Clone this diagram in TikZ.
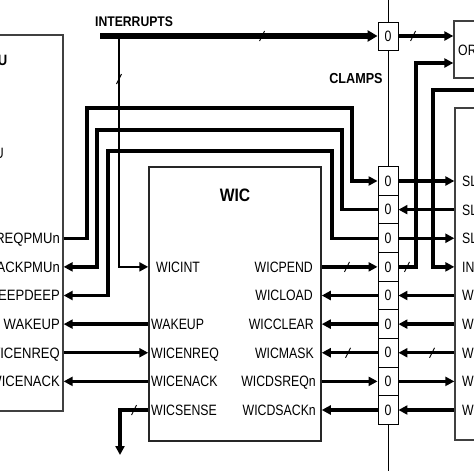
\documentclass[tikz,border=0pt]{standalone}
\usepackage{fontspec}
\newfontfamily\labfont[FakeStretch=0.82]{Liberation Sans}
\newfontfamily\pmufont[FakeStretch=0.87]{Liberation Sans}
\newfontfamily\boldfont[FakeStretch=0.87]{Liberation Sans Bold}
\usetikzlibrary{arrows.meta}
\newcommand\slashmark[2]{\draw[tickmark] ({#1-2.5},{#2+5}) -- ({#1+2.5},{#2-5});}
\begin{document}
\begin{tikzpicture}[x=1pt,y=-1pt,
  lab/.style={font=\labfont\fontsize{15}{15}\selectfont, inner sep=0pt},
  plab/.style={font=\pmufont\fontsize{15}{15}\selectfont, inner sep=0pt},
  blab/.style={font=\boldfont\fontsize{14}{14}\selectfont, inner sep=0pt},
  sig/.style={line width=3.4pt},
  arr/.style={-{Triangle[length=9pt,width=9pt]}},
  tickmark/.style={line width=0.9pt},
  clampbox/.style={draw, line width=0.9pt, fill=white, minimum width=20pt,
    minimum height=28.625pt, inner sep=0pt, font=\labfont\fontsize{15}{15}\selectfont},
  blockbox/.style={draw, line width=1.3pt, inner sep=0pt}
]
\clip (0,0) rectangle (474,474);
\fill[white] (0,0) rectangle (474,474);

% boxes
\node[blockbox, draw=black!75, minimum width=100pt, minimum height=376pt] (pmu) at (13,223) {};
\node[blockbox, draw=black!85, line width=1.5pt, minimum width=172pt, minimum height=274pt] (wic) at (235,304) {};
\node[blockbox, draw=black!75, minimum width=80pt, minimum height=332pt] (bigbox) at (495,274) {};
\node[blockbox, draw=black!75, minimum width=80pt, minimum height=57pt] (orbox) at (494,49.5) {};

% clamp column
\coordinate (coltop) at (388,0);
\coordinate (colbot) at (388,471);
\draw[line width=1pt] (coltop) -- (colbot);
\node[clampbox, minimum height=28pt] (c0) at (388,36) {0};
\node[clampbox] (c1) at (388,181) {0};
\node[clampbox] (c2) at (388,209.625) {0};
\node[clampbox] (c3) at (388,238.25) {0};
\node[clampbox] (c4) at (388,266.875) {0};
\node[clampbox] (c5) at (388,295.5) {0};
\node[clampbox] (c6) at (388,324.125) {0};
\node[clampbox] (c7) at (388,352.75) {0};
\node[clampbox] (c8) at (388,381.375) {0};
\node[clampbox] (c9) at (388,410) {0};

% titles
\node[blab, anchor=base west] (tint) at (95,26.5) {INTERRUPTS};
\node[blab, font=\boldfont\fontsize{14.5}{14.5}\selectfont] (tclamp) at (356,79) {CLAMPS};
\node[blab, font=\boldfont\fontsize{18}{18}\selectfont] (twic) at (235,195) {WIC};
\node[blab, font=\boldfont\fontsize{15}{15}\selectfont, anchor=base east] (tpmu) at (7.5,65) {PMU};
\node[lab, anchor=base east] (tpmu2) at (4,158.5) {U};

% PMU labels
\node[plab, anchor=base east] (p3) at (60,243.7) {WICDSREQPMUn};
\node[plab, anchor=base east] (p4) at (60,272.3) {WICDSACKPMUn};
\node[plab, anchor=base east] (p5) at (60,300.9) {SLEEPDEEP};
\node[plab, anchor=base east] (p6) at (60,329.5) {WAKEUP};
\node[plab, anchor=base east] (p7) at (60,358.2) {WICENREQ};
\node[plab, anchor=base east] (p8) at (60,386.8) {WICENACK};

% WIC labels
\node[lab, anchor=base west] (wl4) at (156,272.3) {WICINT};
\node[lab, anchor=base west] (wl6) at (151,329.5) {WAKEUP};
\node[lab, anchor=base west] (wl7) at (151,358.2) {WICENREQ};
\node[lab, anchor=base west] (wl8) at (151,386.8) {WICENACK};
\node[lab, anchor=base west] (wl9) at (151,415.4) {WICSENSE};
\node[lab, anchor=base east] (wr4) at (313,272.3) {WICPEND};
\node[lab, anchor=base east] (wr5) at (313,300.9) {WICLOAD};
\node[lab, anchor=base east] (wr6) at (314,329.5) {WICCLEAR};
\node[lab, anchor=base east] (wr7) at (314,358.2) {WICMASK};
\node[lab, anchor=base east] (wr8) at (316,386.8) {WICDSREQn};
\node[lab, anchor=base east] (wr9) at (316,415.4) {WICDSACKn};

% right block labels
\node[lab, anchor=base west] (or1) at (458,55.5) {OR};
\node[lab, anchor=base west] (b1) at (462,186.4) {SLEEPHOLDREQn};
\node[lab, anchor=base west] (b2) at (462,215.0) {SLEEPHOLDACKn};
\node[lab, anchor=base west] (b3) at (462,243.7) {SLEEPDEEP};
\node[lab, anchor=base west] (b4) at (462,272.3) {INTISR};
\node[lab, anchor=base west] (b5) at (462,300.9) {WICLOAD};
\node[lab, anchor=base west] (b6) at (462,329.5) {WICCLEAR};
\node[lab, anchor=base west] (b7) at (462,358.2) {WICMASK};
\node[lab, anchor=base west] (b8) at (462,386.8) {WICDSREQn};
\node[lab, anchor=base west] (b9) at (462,415.4) {WICDSACKn};

% interrupts bus
\coordinate (intsrc) at (100,36);
\coordinate (inttap) at (119,36);
\draw[line width=5.2pt, -{Triangle[length=10pt,width=11pt]}] (intsrc) -- (c0.west);
\draw[line width=2.6pt, arr] (inttap) -- (119,266.875) -- (wic.west |- c4);
\draw[sig, arr] (c0.east) -- ([yshift=13.5pt]orbox.west);
\slashmark{262}{36}
\slashmark{119}{79}
\slashmark{413}{36}

% PMU <-> clamps
\draw[sig, arr] (pmu.east |- c3) -- (87,238.25) -- (87,108) -- (352,108) -- (352,181) -- (c1.west);
\draw[sig, arr] (c1.east) -- (bigbox.west |- c1);
\draw[sig, arr] (c2.west) -- (342,209.625) -- (342,130) -- (97,130) -- (97,266.875) -- (pmu.east |- c4);
\draw[sig, arr] (bigbox.west |- c2) -- (c2.east);
\draw[sig, arr] (c3.west) -- (332,238.25) -- (332,151) -- (108,151) -- (108,295.5) -- (pmu.east |- c5);
\draw[sig, arr] (c3.east) -- (bigbox.west |- c3);

% WIC right side
\draw[sig, arr] (wic.east |- c4) -- (c4.west);
\draw[sig, arr] (c4.east) -- (416,266.875) -- (416,63) -- ([yshift=-13.5pt]orbox.west);
\slashmark{347}{266.875}
\slashmark{407}{266.875}
\coordinate (inext) at (480,90);
\draw[sig, arr] (inext) -- (433,90) -- (433,266.875) -- (bigbox.west |- c4);
\draw[sig, arr] (c5.west) -- (wic.east |- c5);
\draw[sig, arr] (bigbox.west |- c5) -- (c5.east);
\draw[sig, arr] (c6.west) -- (wic.east |- c6);
\draw[sig, arr] (bigbox.west |- c6) -- (c6.east);
\draw[sig, arr] (c7.west) -- (wic.east |- c7);
\draw[sig, arr] (bigbox.west |- c7) -- (c7.east);
\slashmark{348}{352.75}
\slashmark{432}{352.75}
\draw[sig, arr] (wic.east |- c8) -- (c8.west);
\draw[sig, arr] (c8.east) -- (bigbox.west |- c8);
\draw[sig, arr] (c9.west) -- (wic.east |- c9);
\draw[sig, arr] (bigbox.west |- c9) -- (c9.east);

% WIC left side
\draw[sig, arr] (wic.west |- c6) -- (pmu.east |- c6);
\draw[sig, arr] (pmu.east |- c7) -- (wic.west |- c7);
\draw[sig, arr] (wic.west |- c8) -- (pmu.east |- c8);
\coordinate (sensedown) at (120,455);
\draw[sig, arr] (wic.west |- c9) -- (120,410) -- (sensedown);
\slashmark{134}{410}
\end{tikzpicture}
\end{document}
